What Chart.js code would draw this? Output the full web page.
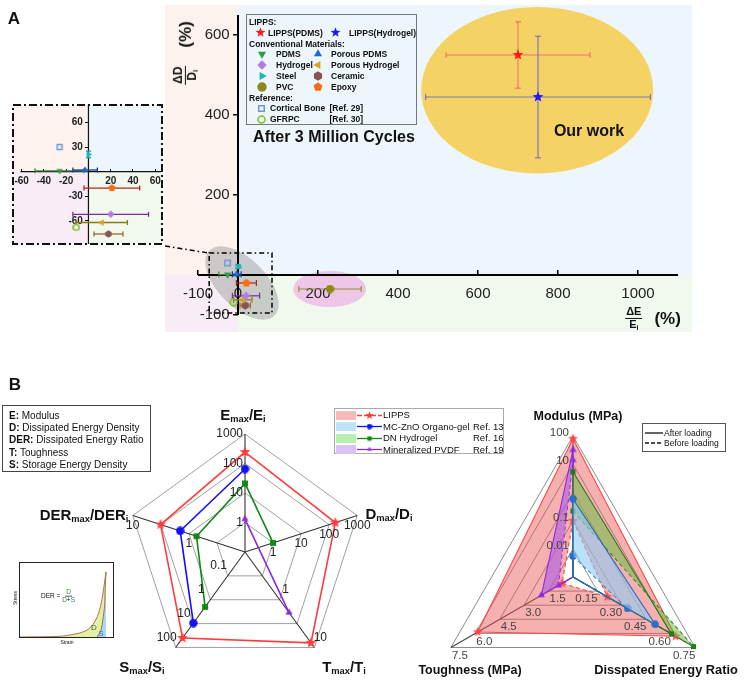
<!DOCTYPE html>
<html>
<head>
<meta charset="utf-8">
<script src="https://cdn.jsdelivr.net/npm/chart.js@4.4.1/dist/chart.umd.min.js"></script>
<style>
html, body { margin: 0; padding: 0; background: #fff; overflow: hidden; width: 745px; height: 687px; }
body { position: relative; font-family: "Liberation Sans", Arial, sans-serif; color: #111; }
canvas { position: absolute; }
.t { position: absolute; white-space: nowrap; line-height: 1; }
.c { transform: translate(-50%, -50%); }
sub { font-size: 0.62em; vertical-align: -0.3em; line-height: 0; }
.frac { display: inline-flex; flex-direction: column; align-items: center; line-height: 1.05; }
.frac .num { border-bottom: 1.5px solid #111; padding: 0 1px; }
.box { position: absolute; box-sizing: border-box; }
.lg { position: absolute; white-space: nowrap; line-height: 1; transform: translateY(-50%); }
</style>
</head>
<body>
<canvas id="mainA" width="745" height="345" style="left:0;top:0"></canvas>
<canvas id="insetA" width="159" height="149" style="left:8px;top:100px"></canvas>
<canvas id="ratioRadar" width="276" height="276" style="left:107px;top:414px"></canvas>
<canvas id="propRadar" width="322" height="322" style="left:412px;top:416px"></canvas>
<canvas id="derSketch" width="93" height="74" style="left:20px;top:563px"></canvas>

<div class="t c" style="left:14px;top:18px;font-weight:bold;font-size:17px">A</div>
<div class="t c" style="left:15px;top:384px;font-weight:bold;font-size:17px">B</div>

<div class="t" style="left:185px;top:53px;transform:translate(-50%,-50%) rotate(-90deg);font-weight:bold;font-size:17px;display:flex;align-items:center">
  <span class="frac" style="font-size:12px"><span class="num">&Delta;D</span><span>D<sub>i</sub></span></span><span style="margin-left:18px">(%)</span>
</div>
<div class="t" style="left:653px;top:318px;transform:translate(-50%,-50%);font-weight:bold;font-size:17px;display:flex;align-items:center">
  <span class="frac" style="font-size:11px"><span class="num">&Delta;E</span><span>E<sub>i</sub></span></span><span style="margin-left:12px">(%)</span>
</div>
<div class="t c" style="left:334px;top:137px;font-weight:bold;font-size:16px">After 3 Million Cycles</div>
<div class="t c" style="left:589px;top:131px;font-weight:bold;font-size:16px">Our work</div>
<div id="legendA" class="box" style="left:246px;top:14px;width:171px;height:111px;border:1px solid #777"></div>

<div class="box" style="left:2px;top:405px;width:149px;height:67px;border:1.5px solid #444;font-size:10px;line-height:12.2px;padding:4px 0 0 6px">
<b>E:</b> Modulus<br><b>D:</b> Dissipated Energy Density<br><b>DER:</b> Dissipated Energy Ratio<br><b>T:</b> Toughness<br><b>S:</b> Storage Energy Density
</div>

<div class="box" style="left:19px;top:562px;width:95px;height:76px;border:1px solid #222"></div>
<div class="t c" style="left:15px;top:598px;font-size:5px;transform:translate(-50%,-50%) rotate(-90deg)">Stress</div>
<div class="t c" style="left:67px;top:642px;font-size:5px">Strain</div>
<div class="t" style="left:58px;top:596px;transform:translate(-50%,-50%);font-size:6.5px;display:flex;align-items:center">
  <span>DER =&nbsp;</span><span class="frac" style="font-size:6.5px"><span class="num" style="color:#3a8a2a;border-bottom:0.8px solid #555">D</span><span><span style="color:#3a8a2a">D</span>+<span style="color:#2a78b0">S</span></span></span>
</div>
<div class="t c" style="left:94px;top:628px;font-size:8px;color:#2f6a1a">D</div>
<div class="t c" style="left:101px;top:634px;font-size:8px;color:#2a78b0">S</div>

<div class="t c" style="left:243px;top:414px;font-weight:bold;font-size:15px">E<sub>max</sub>/E<sub>i</sub></div>
<div class="t c" style="left:389px;top:513px;font-weight:bold;font-size:15px">D<sub>max</sub>/D<sub>i</sub></div>
<div class="t c" style="left:344px;top:666px;font-weight:bold;font-size:15px">T<sub>max</sub>/T<sub>i</sub></div>
<div class="t c" style="left:142px;top:666px;font-weight:bold;font-size:15px">S<sub>max</sub>/S<sub>i</sub></div>
<div class="t c" style="left:84px;top:514px;font-weight:bold;font-size:15px">DER<sub>max</sub>/DER<sub>i</sub></div>
<div id="legendB" class="box" style="left:334px;top:408px;width:170px;height:46px;border:1px solid #aaa"></div>

<div class="t c" style="left:578px;top:416px;font-weight:bold;font-size:12.5px">Modulus (MPa)</div>
<div class="t c" style="left:470px;top:670px;font-weight:bold;font-size:12.5px">Toughness (MPa)</div>
<div class="t c" style="left:666px;top:670px;font-weight:bold;font-size:12.8px">Disspated Energy Ratio</div>
<div id="legendC" class="box" style="left:642px;top:423px;width:84px;height:29px;border:1px solid #555"></div>

<script>
// ---------- panel A: change after 3 million cycles (%) ----------
const materials = ['LIPPS(PDMS)', 'LIPPS(Hydrogel)', 'PDMS', 'Porous PDMS', 'Hydrogel', 'Porous Hydrogel',
  'Steel', 'Ceramic', 'PVC', 'Epoxy', 'Cortical Bone', 'GFRPC'];
const dModulus = [700, 750, -26, -3, 20, 12, 0, 18, 230, 21, -26, -11];
const dModulusErr = [180, 281, 22, 11, 34, 23, 0, 13, 78, 25, 0, 0];
const dDissipation = [550, 445, 1, 2, -52, -62, 21, -76, -35, -20, 30, -68];
const dDissipationErr = [83, 152, 0, 0, 0, 0, 4, 0, 0, 0, 0, 0];
const refTags = ['', '', '', '', '', '', '', '', '', '', '[Ref. 29]', '[Ref. 30]'];
const xTicksA = [-100, 0, 200, 400, 600, 800, 1000];
const yTicksA = [-100, 200, 400, 600];
const xTicksInset = [-60, -40, -20, 20, 40, 60];
const yTicksInset = [-60, -30, 30, 60];

const shapes = ['star', 'star', 'down', 'up', 'diamond', 'left', 'right', 'hexagon', 'circle', 'pentagon', 'square', 'circle'];
const colors = ['#ff1a1a', '#1a1aff', '#2f9a45', '#2066d6', '#b57ae6', '#d9a31a', '#1ab4bc', '#8a5252', '#8c8a12', '#ff6a12', '#6b9bd6', '#7cc224'];
const errColors = ['rgba(238,110,110,0.9)', 'rgba(110,110,200,0.9)', '#2e8a3c', '#1c3a9c', '#7c2a9c', '#8c7a12', '#1a9aa0', '#a8622c', '#9a9038', '#b02424', '#6b9bd6', '#7cc224'];
const hollow = [false, false, false, false, false, false, false, false, false, false, true, true];

// ---------- panel B left: max / initial ratios ----------
const ratioAxes = ['Emax/Ei', 'Dmax/Di', 'Tmax/Ti', 'Smax/Si', 'DERmax/DERi'];
const ratioTicks = [[1, 10, 100, 1000], [1, 10, 100, 1000], [1, 10], [0.1, 1, 10, 100], [1, 10]];
const ratioCentre = [0.1, 0.1, 0.1, 0.01, 0.1];
const ratioRingsPerDecade = [1, 1, 2, 1, 2];
const radarSeries = ['LIPPS', 'MC-ZnO Organo-gel', 'DN Hydrogel', 'Mineralized PVDF'];
const radarRefs = ['', 'Ref. 13', 'Ref. 16', 'Ref. 19'];
const lippsRatio = [245, 166, 8, 40, 3.2];
const znoRatio = [65, null, null, 9.5, 1.43];
const dnRatio = [21, 1.0, null, 2.0, 0.73];
const pvdfRatio = [1.3, null, 1.86, null, null];

// ---------- panel B right: properties after / before loading ----------
const propAxes = ['Modulus (MPa)', 'Disspated Energy Ratio', 'Toughness (MPa)'];
const modulusTicks = [0.01, 0.1, 10, 100];
const derTicks = [0.15, 0.30, 0.45, 0.60, 0.75];
const toughTicks = [1.5, 3.0, 4.5, 6.0, 7.5];
const lippsAfter = [80, 0.63, 5.85];
const lippsBefore = [0.1, 0.21, 0.67];
const znoAfter = [0.59, 0.505, 0];
const znoBefore = [0.0055, 0.335, 0];
const dnAfter = [5.4, 0.605, 0];
const dnBefore = [0.22, 0.74, 0];
const pvdfAfter = [32, 0, 1.94];
const pvdfBefore = [14, 0, 0.9];

// ---------- DER sketch (stress-strain loop) ----------
const loadStrain = [0, 0.43, 0.59, 0.68, 0.75, 0.81, 0.85, 0.88, 0.90, 0.925];
const loadStress = [0, 0.01, 0.04, 0.07, 0.12, 0.22, 0.34, 0.50, 0.66, 0.88];
const unloadStrain = [0.83, 0.87, 0.89, 0.91, 0.915, 0.925];
const unloadStress = [0, 0.09, 0.23, 0.43, 0.64, 0.88];

Chart.defaults.font.family = '"Liberation Sans", Arial, sans-serif';
Chart.defaults.animation = false;
Chart.defaults.responsive = false;
Chart.defaults.plugins.legend.display = false;
Chart.defaults.plugins.tooltip.enabled = false;

function markerCanvas(shape, color, size, open) {
  const c = document.createElement('canvas');
  c.width = size; c.height = size;
  const g = c.getContext('2d');
  const m = size / 2, r = size / 2 - (open ? 1 : 0.3);
  const poly = (n, rot, radii) => {
    for (let k = 0; k < n; k++) {
      const a = rot + k * 2 * Math.PI / n;
      const rr = radii ? radii[k % radii.length] : r;
      const px = m + rr * Math.cos(a), py = m + rr * Math.sin(a);
      k ? g.lineTo(px, py) : g.moveTo(px, py);
    }
    g.closePath();
  };
  g.beginPath();
  if (shape === 'star') poly(10, -Math.PI / 2, [r, r * 0.42]);
  else if (shape === 'pentagon') poly(5, -Math.PI / 2);
  else if (shape === 'hexagon') poly(6, -Math.PI / 2);
  else if (shape === 'up') poly(3, -Math.PI / 2);
  else if (shape === 'down') poly(3, Math.PI / 2);
  else if (shape === 'left') poly(3, Math.PI);
  else if (shape === 'right') poly(3, 0);
  else if (shape === 'diamond') poly(4, -Math.PI / 2);
  else if (shape === 'square') g.rect(m - r * 0.8, m - r * 0.8, r * 1.6, r * 1.6);
  else g.arc(m, m, r, 0, Math.PI * 2);
  if (open) { g.lineWidth = 1.5; g.strokeStyle = color; g.stroke(); }
  else { g.fillStyle = color; g.fill(); }
  return c;
}

function quadrants(chart) {
  const {ctx, chartArea: a, scales: {x, y}} = chart;
  const x0 = x.getPixelForValue(0), y0 = y.getPixelForValue(0);
  ctx.save();
  ctx.fillStyle = '#fdf2ee'; ctx.fillRect(a.left, a.top, x0 - a.left, y0 - a.top);
  ctx.fillStyle = '#edf5fd'; ctx.fillRect(x0, a.top, a.right - x0, y0 - a.top);
  ctx.fillStyle = '#f8edf6'; ctx.fillRect(a.left, y0, x0 - a.left, a.bottom - y0);
  ctx.fillStyle = '#f1f8ee'; ctx.fillRect(x0, y0, a.right - x0, a.bottom - y0);
  ctx.restore();
}

// keep the tick labels of the crossing axes from shrinking the plot area
const noScalePadding = ax => { ax.paddingTop = ax.paddingBottom = ax.paddingLeft = ax.paddingRight = 0; };

const errorBars = {
  id: 'errorBars',
  beforeDatasetsDraw(chart, args, opts) {
    const {ctx, chartArea: a, scales: {x, y}} = chart;
    const cap = opts.cap || 3;
    const seg = (x1, y1, x2, y2) => { ctx.beginPath(); ctx.moveTo(x1, y1); ctx.lineTo(x2, y2); ctx.stroke(); };
    ctx.save();
    ctx.beginPath(); ctx.rect(a.left, a.top, a.width, a.height); ctx.clip();
    ctx.lineWidth = opts.width || 1.2;
    chart.data.datasets.forEach(ds => {
      const p = ds.data[0];
      const px = x.getPixelForValue(p.x), py = y.getPixelForValue(p.y);
      ctx.strokeStyle = ds.errColor;
      if (ds.errX) {
        const l = x.getPixelForValue(p.x - ds.errX), r = x.getPixelForValue(p.x + ds.errX);
        seg(l, py, r, py); seg(l, py - cap, l, py + cap); seg(r, py - cap, r, py + cap);
      }
      if (ds.errY) {
        const t = y.getPixelForValue(p.y + ds.errY), b = y.getPixelForValue(p.y - ds.errY);
        seg(px, t, px, b); seg(px - cap, t, px + cap, t); seg(px - cap, b, px + cap, b);
      }
    });
    ctx.restore();
  }
};

function scatterSets(sizeFn) {
  return materials.map((m, i) => ({
    label: m,
    data: [{x: dModulus[i], y: dDissipation[i]}],
    pointStyle: markerCanvas(shapes[i], colors[i], sizeFn(i), hollow[i]),
    pointRadius: 4,
    errX: dModulusErr[i], errY: dDissipationErr[i], errColor: errColors[i]
  }));
}

const panelA = {
  id: 'panelA',
  beforeDraw(chart) {
    quadrants(chart);
    const {ctx, scales: {x, y}} = chart;
    const sx = Math.abs(x.getPixelForValue(1) - x.getPixelForValue(0));
    const sy = Math.abs(y.getPixelForValue(1) - y.getPixelForValue(0));
    ctx.save();
    ctx.fillStyle = '#f5d264';
    ctx.beginPath(); ctx.ellipse(x.getPixelForValue(748), y.getPixelForValue(462), 290 * sx, 208 * sy, 0, 0, Math.PI * 2); ctx.fill();
    ctx.fillStyle = 'rgba(236,170,228,0.65)';
    ctx.beginPath(); ctx.ellipse(x.getPixelForValue(229), y.getPixelForValue(-35), 91 * sx, 45 * sy, 0, 0, Math.PI * 2); ctx.fill();
    ctx.fillStyle = 'rgba(160,160,160,0.5)';
    ctx.beginPath(); ctx.ellipse(x.getPixelForValue(10), y.getPixelForValue(-20), 46, 24, Math.PI / 4, 0, Math.PI * 2); ctx.fill();
    ctx.restore();
  },
  beforeDatasetsDraw(chart) {
    const {ctx, scales: {x, y}} = chart;
    const x0 = x.getPixelForValue(0), y0 = y.getPixelForValue(0);
    ctx.save();
    ctx.strokeStyle = '#000'; ctx.lineWidth = 2;
    ctx.beginPath();
    ctx.moveTo(x.getPixelForValue(-100), y0); ctx.lineTo(x.getPixelForValue(1100), y0);
    ctx.moveTo(x0, y.getPixelForValue(-100)); ctx.lineTo(x0, y.getPixelForValue(650));
    ctx.stroke();
    // zoom window and link to the inset
    const l = x.getPixelForValue(-72), r = x.getPixelForValue(85), t = y.getPixelForValue(55), b = y.getPixelForValue(-95);
    ctx.lineWidth = 1.5; ctx.setLineDash([5, 3, 1.5, 3]);
    ctx.strokeRect(l, t, r - l, b - t);
    ctx.beginPath(); ctx.moveTo(165, 246); ctx.lineTo(l, t); ctx.stroke();
    ctx.restore();
  }
};

new Chart(document.getElementById('mainA'), {
  type: 'scatter',
  data: {datasets: scatterSets(i => i < 2 ? 12 : 9)},
  options: {
    layout: {padding: {left: 165, top: 5, right: 53, bottom: 13}},
    scales: {
      x: {
        type: 'linear', min: -182.5, max: 1135, position: {y: 0},
        afterBuildTicks: ax => { ax.ticks = xTicksA.map(v => ({value: v})); },
        afterFit: noScalePadding,
        grid: {drawOnChartArea: false, drawTicks: true, tickLength: -5, color: '#000', lineWidth: 1.5},
        border: {display: false},
        ticks: {font: {size: 15}, color: '#222', padding: 15, autoSkip: false, maxRotation: 0, callback: v => String(v)}
      },
      y: {
        type: 'linear', min: -142.5, max: 675, position: {x: 0},
        afterBuildTicks: ax => { ax.ticks = yTicksA.map(v => ({value: v})); },
        afterFit: noScalePadding,
        grid: {drawOnChartArea: false, drawTicks: true, tickLength: 5, color: '#000', lineWidth: 1.5},
        border: {display: false},
        ticks: {font: {size: 15}, color: '#222', autoSkip: false, callback: v => v + '  '}
      }
    },
    plugins: {errorBars: {cap: 3, width: 1.2}}
  },
  plugins: [panelA, errorBars]
});

const insetDeco = {
  id: 'insetDeco',
  beforeDraw: quadrants,
  beforeDatasetsDraw(chart) {
    const {ctx, chartArea: a, scales: {x, y}} = chart;
    const x0 = x.getPixelForValue(0), y0 = y.getPixelForValue(0);
    ctx.save();
    ctx.strokeStyle = '#111'; ctx.lineWidth = 1.2;
    ctx.beginPath();
    ctx.moveTo(x.getPixelForValue(-61), y0); ctx.lineTo(a.right - 1, y0);
    ctx.moveTo(x0, a.top); ctx.lineTo(x0, a.bottom);
    ctx.stroke();
    ctx.restore();
  },
  afterDraw(chart) {
    const {ctx, chartArea: a} = chart;
    ctx.save();
    ctx.strokeStyle = '#111'; ctx.lineWidth = 2; ctx.setLineDash([8, 3, 2, 3]);
    ctx.strokeRect(a.left, a.top, a.width, a.height);
    ctx.restore();
  }
};

new Chart(document.getElementById('insetA'), {
  type: 'scatter',
  data: {datasets: scatterSets(i => 8)},
  options: {
    layout: {padding: {left: 2, top: 2, right: 3, bottom: 3}},
    scales: {
      x: {
        type: 'linear', min: -67.8, max: 66.1, position: {y: 0},
        afterBuildTicks: ax => { ax.ticks = xTicksInset.map(v => ({value: v})); },
        afterFit: noScalePadding,
        grid: {drawOnChartArea: false, drawTicks: true, tickLength: -3, color: '#111', lineWidth: 1},
        border: {display: false},
        ticks: {font: {size: 10, weight: 'bold'}, color: '#222', padding: 7, autoSkip: false, maxRotation: 0}
      },
      y: {
        type: 'linear', min: -88.2, max: 81.2, position: {x: 0},
        afterBuildTicks: ax => { ax.ticks = yTicksInset.map(v => ({value: v})); },
        afterFit: noScalePadding,
        grid: {drawOnChartArea: false, drawTicks: true, tickLength: 3, color: '#111', lineWidth: 1},
        border: {display: false},
        ticks: {font: {size: 10, weight: 'bold'}, color: '#222', autoSkip: false, callback: v => v + '  '}
      }
    },
    plugins: {errorBars: {cap: 2.5, width: 1.3}}
  },
  plugins: [insetDeco, errorBars]
});

// legend of panel A
(function () {
  const box = document.getElementById('legendA');
  const rowY = k => 21 + k * 10.8 - 14;
  const put = (html, left, k, extra) => {
    const d = document.createElement('div');
    d.className = 'lg';
    d.style.cssText += `left:${left - 247}px;top:${rowY(k)}px;font-weight:bold;font-size:8.5px;${extra || ''}`;
    d.innerHTML = html;
    box.appendChild(d);
  };
  const sym = (i, cx, k, size) => {
    const c = markerCanvas(shapes[i], colors[i], size, hollow[i]);
    c.style.left = (cx - 247 - size / 2) + 'px';
    c.style.top = (rowY(k) - size / 2) + 'px';
    box.appendChild(c);
  };
  put('LIPPS:', 249, 0);
  sym(0, 260, 1, 11); put(materials[0], 268, 1);
  sym(1, 335, 1, 11); put(materials[1], 349, 1);
  put('Conventional Materials:', 249, 2);
  [[2, 3], [4, 5], [6, 7], [8, 9]].forEach((pair, j) => {
    sym(pair[0], 262, 3 + j, 10); put(materials[pair[0]], 276, 3 + j);
    sym(pair[1], 318, 3 + j, 10); put(materials[pair[1]], 331, 3 + j);
  });
  put('Reference:', 249, 7);
  [10, 11].forEach((i, j) => {
    sym(i, 261, 8 + j, 9); put(materials[i], 270, 8 + j);
    put(refTags[i], 363, 8 + j, 'transform:translate(-100%,-50%)');
  });
})();

// ---------- left radar ----------
function ratioRing(v, i) {
  return v == null ? null : Math.log10(v / ratioCentre[i]) * ratioRingsPerDecade[i];
}
const ratioStyle = [
  {color: '#ff3c3c', shape: 'star', size: 12},
  {color: '#1010ff', shape: 'circle', size: 9},
  {color: '#118811', shape: 'square', size: 8},
  {color: '#8a2be2', shape: 'up', size: 9}
];
const ratioData = [lippsRatio, znoRatio, dnRatio, pvdfRatio];

function radarLabels(tickSets, toRing, fmt, offsets, font, color) {
  return {
    id: 'radarLabels',
    afterDatasetsDraw(chart) {
      const s = chart.scales.r, g = chart.ctx;
      g.save(); g.font = font; g.fillStyle = color; g.textBaseline = 'middle';
      tickSets.forEach((ticks, i) => ticks.forEach(v => {
        const p = s.getPointPosition(i, s.getDistanceFromCenterForValue(toRing(v, i)));
        const o = offsets[i];
        g.textAlign = o[2];
        g.fillText(fmt(v, i), p.x + o[0], p.y + o[1]);
      }));
      g.restore();
    }
  };
}

new Chart(document.getElementById('ratioRadar'), {
  type: 'radar',
  data: {
    labels: ratioAxes,
    datasets: ratioData.map((vals, k) => ({
      label: radarSeries[k],
      data: vals.map(ratioRing),
      borderColor: ratioStyle[k].color,
      borderWidth: 1.6,
      fill: false,
      spanGaps: k === 3,
      pointStyle: markerCanvas(ratioStyle[k].shape, ratioStyle[k].color, ratioStyle[k].size, false),
      pointRadius: 4
    }))
  },
  options: {
    layout: {padding: 20},
    scales: {
      r: {
        min: 0, max: 4,
        ticks: {display: false, stepSize: 1},
        grid: {color: '#a0a0a0', lineWidth: 1},
        angleLines: {color: '#333', lineWidth: 1.1},
        pointLabels: {display: false}
      }
    }
  },
  plugins: [radarLabels(ratioTicks, ratioRing, v => String(v),
    [[-2, 0, 'right'], [0, 10, 'center'], [6, -10, 'center'], [-9, -10, 'center'], [0, 10, 'center']],
    '12px "Liberation Sans", Arial, sans-serif', '#222')]
});

// legend of left radar
(function () {
  const box = document.getElementById('legendB');
  const fills = ['#f7b9b9', '#bfe3f7', '#b6f0b0', '#d9c2f7'];
  radarSeries.forEach((name, k) => {
    const cy = 6 + k * 11.6;
    const sw = document.createElement('div');
    sw.style.cssText = `position:absolute;left:1px;top:${cy - 4.5}px;width:20px;height:9px;background:${fills[k]}`;
    box.appendChild(sw);
    const c = document.createElement('canvas');
    c.width = 25; c.height = 9;
    c.style.left = '22px'; c.style.top = (cy - 4.5) + 'px';
    const g = c.getContext('2d');
    g.strokeStyle = ratioStyle[k].color; g.lineWidth = 1.3;
    if (k === 0) g.setLineDash([5, 2]);
    g.beginPath(); g.moveTo(0, 4.5); g.lineTo(25, 4.5); g.stroke();
    g.drawImage(markerCanvas(ratioStyle[k].shape, ratioStyle[k].color, k === 0 ? 9 : 6, false), k === 0 ? 8 : 9.5, k === 0 ? 0 : 1.5);
    box.appendChild(c);
    const t = document.createElement('div');
    t.className = 'lg';
    t.style.cssText += `left:48px;top:${cy}px;font-size:9.5px`;
    t.textContent = name;
    box.appendChild(t);
    if (radarRefs[k]) {
      const r = document.createElement('div');
      r.className = 'lg';
      r.style.cssText += `left:138px;top:${cy}px;font-size:9.5px`;
      r.textContent = radarRefs[k];
      box.appendChild(r);
    }
  });
})();

// ---------- right radar ----------
function propRing(v, i) {
  if (v === 0) return 0;
  if (i === 0) return Math.log10(v / modulusTicks[0]) + 1;
  if (i === 1) return v / derTicks[0];
  return v / toughTicks[0];
}
const propStyle = [
  {after: znoAfter, before: znoBefore, color: '#2a6fc0', fill: 'rgba(140,205,245,0.6)', shape: 'circle', size: 8},
  {after: dnAfter, before: dnBefore, color: '#1d7d1d', fill: 'rgba(110,190,70,0.55)', shape: 'square', size: 7},
  {after: pvdfAfter, before: pvdfBefore, color: '#8a2be2', fill: 'rgba(170,90,230,0.6)', shape: 'up', size: 9},
  {after: lippsAfter, before: lippsBefore, color: '#ff4545', fill: 'rgba(238,80,80,0.45)', shape: 'star', size: 11}
];
const propNames = ['MC-ZnO Organo-gel', 'DN Hydrogel', 'Mineralized PVDF', 'LIPPS'];
const propSets = [];
propStyle.forEach((s, k) => {
  const pt = markerCanvas(s.shape, s.color, s.size, false);
  propSets.push({
    label: propNames[k] + ' after loading',
    data: s.after.map(propRing),
    borderColor: s.color, borderWidth: 1.1,
    backgroundColor: s.fill, fill: '+1',
    pointStyle: pt, pointRadius: c => c.raw === 0 ? 0 : 4
  });
  propSets.push({
    label: propNames[k] + ' before loading',
    data: s.before.map(propRing),
    borderColor: s.color, borderWidth: 1.1, borderDash: [4, 3],
    fill: false,
    pointStyle: pt, pointRadius: c => c.raw === 0 ? 0 : 4
  });
});

new Chart(document.getElementById('propRadar'), {
  type: 'radar',
  data: {labels: propAxes, datasets: propSets},
  options: {
    layout: {padding: 20},
    scales: {
      r: {
        min: 0, max: 5,
        ticks: {display: false, stepSize: 1},
        grid: {color: '#8c8c8c', lineWidth: 1},
        angleLines: {color: '#444', lineWidth: 1.1},
        pointLabels: {display: false}
      }
    }
  },
  plugins: [radarLabels([modulusTicks, derTicks, toughTicks], propRing,
    (v, i) => i === 0 ? String(v) : (i === 1 ? v.toFixed(2) : v.toFixed(1)),
    [[-4, -3, 'right'], [-11, 8, 'center'], [9, 8, 'center']],
    '11.5px "Liberation Sans", Arial, sans-serif', '#444')]
});

// legend of right radar
(function () {
  const box = document.getElementById('legendC');
  ['After loading', 'Before loading'].forEach((name, k) => {
    const cy = 8.5 + k * 10.6;
    const c = document.createElement('canvas');
    c.width = 18; c.height = 4;
    c.style.left = '2px'; c.style.top = (cy - 2) + 'px';
    const g = c.getContext('2d');
    g.strokeStyle = '#111'; g.lineWidth = 1.3;
    if (k === 1) g.setLineDash([4, 2]);
    g.beginPath(); g.moveTo(0, 2); g.lineTo(18, 2); g.stroke();
    box.appendChild(c);
    const t = document.createElement('div');
    t.className = 'lg';
    t.style.cssText += `left:21px;top:${cy}px;font-size:8.5px`;
    t.textContent = name;
    box.appendChild(t);
  });
})();

// ---------- DER sketch ----------
new Chart(document.getElementById('derSketch'), {
  type: 'line',
  data: {
    datasets: [
      {data: unloadStrain.map((v, i) => ({x: v, y: unloadStress[i]})), borderColor: '#a0522d', borderWidth: 0.8,
        backgroundColor: '#a9d9f2', fill: 'origin', pointRadius: 0, tension: 0.3},
      {data: loadStrain.map((v, i) => ({x: v, y: loadStress[i]})), borderColor: '#a0522d', borderWidth: 0.8,
        backgroundColor: '#e2f1a6', fill: 'origin', pointRadius: 0, tension: 0.3}
    ]
  },
  options: {
    layout: {padding: 0},
    scales: {
      x: {type: 'linear', min: 0, max: 1, display: false},
      y: {min: 0, max: 1, display: false}
    }
  }
});
</script>
</body>
</html>
